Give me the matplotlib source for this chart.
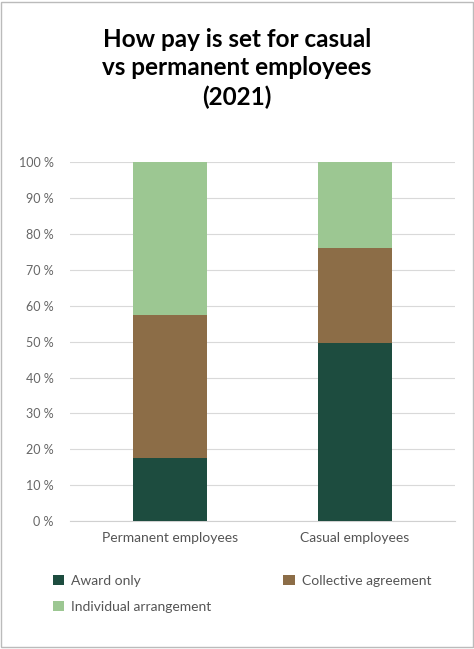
import matplotlib
matplotlib.use("Agg")
import matplotlib.pyplot as plt
from matplotlib.patches import Rectangle

categories = ["Permanent employees", "Casual employees"]
award = [17.5, 49.5]
collective = [40.0, 26.5]
individual = [42.5, 24.0]
series_names = ["Award only", "Collective agreement", "Individual arrangement"]
colors = ["#1d4c3f", "#8c6d47", "#9cc792"]

plt.rcParams['font.family'] = ['Lato', 'DejaVu Sans']
fig = plt.figure(figsize=(4.74, 6.49), dpi=100)
ax = fig.add_axes([0.148, 0.197, 0.812, 0.553])
x = list(range(len(categories)))
bottoms = [0, 0]
handles = []
for vals, name, c in zip([award, collective, individual], series_names, colors):
    h = ax.bar(x, vals, bottom=bottoms, width=0.4, color=c, label=name, zorder=3)
    handles.append(h)
    bottoms = [b + v for b, v in zip(bottoms, vals)]
ax.set_xlim(-0.54, 1.54)
ax.set_ylim(0, 100)
ax.set_yticks(range(0, 101, 10))
ax.set_yticklabels([f"{v} %" for v in range(0, 101, 10)], color="#666666", fontsize=9)
ax.set_xticks(x)
ax.set_xticklabels(categories, color="#555555", fontsize=10)
ax.yaxis.grid(True, color="#d9d9d9", linewidth=0.8, zorder=0)
for s in ["top", "right", "left"]:
    ax.spines[s].set_visible(False)
ax.spines["bottom"].set_color("#d0d0d0")
ax.tick_params(length=0, pad=8)
ax.tick_params(axis="y", pad=12)
fig.text(0.5, 0.895, "How pay is set for casual\nvs permanent employees\n(2021)",
         ha="center", va="center", fontsize=17.5, fontweight="bold", linespacing=1.3)
order = [0, 2, 1]
fig.legend([handles[i] for i in order], [series_names[i] for i in order],
           loc="upper left", bbox_to_anchor=(0.1, 0.123), ncol=2, frameon=False,
           fontsize=10, handlelength=0.8, handleheight=0.8, columnspacing=5.2,
           labelcolor="#555555", borderaxespad=0, handletextpad=0.5, labelspacing=1.0)
fig.patches.append(Rectangle((0.003, 0.003), 0.994, 0.994, transform=fig.transFigure,
                             fill=False, edgecolor="#bbbbbb", linewidth=1))
fig.savefig("out.png", dpi=100)
